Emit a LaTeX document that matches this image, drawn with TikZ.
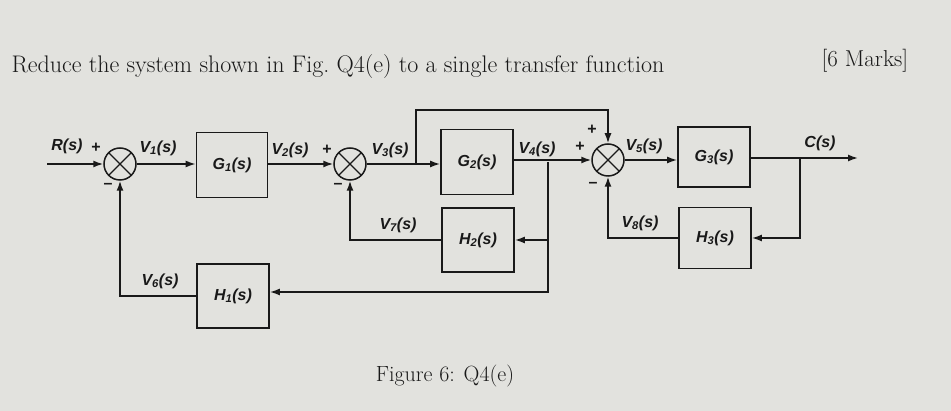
\documentclass[tikz,border=0pt]{standalone}
\usepackage{fontspec}
\newfontfamily\lbl{Liberation Sans}
\usetikzlibrary{arrows.meta}
\definecolor{bg}{RGB}{226,226,222}
\definecolor{ink}{RGB}{25,25,25}
\newcommand\sv[2]{#1\textsubscript{#2}(s)}
\begin{document}
\begin{tikzpicture}[x=1pt,y=-1pt,
  blk/.style={draw=ink,line width=1.8pt,minimum width=72pt,minimum height=64pt,inner sep=0pt,text=ink,font=\lbl\bfseries\itshape\fontsize{16}{18}\selectfont},
  sumj/.style={draw=ink,line width=1.5pt,circle,minimum size=32pt,inner sep=0pt,path picture={\draw[ink,line width=1.3pt] (path picture bounding box.north west)--(path picture bounding box.south east) (path picture bounding box.south west)--(path picture bounding box.north east);}},
  sig/.style={draw=ink,line width=1.5pt},
  arr/.style={sig,-{Latex[length=10pt,width=7pt]}},
  lab/.style={font=\lbl\bfseries\itshape\fontsize{16}{18}\selectfont,text=ink,inner sep=1pt},
  sgn/.style={font=\lbl\bfseries\fontsize{16}{18}\selectfont,text=ink,inner sep=0pt}]
\fill[bg] (0,0) rectangle (951,411);
\useasboundingbox (0,0) rectangle (951,411);
\node[anchor=base west,font=\fontsize{24}{26}\selectfont,text=ink] (title) at (8,73) {Reduce the system shown in Fig.\ Q4(e) to a single transfer function};
\node[anchor=base west,font=\fontsize{23}{26}\selectfont,text=ink] (marks) at (818,67) {[6 Marks]};
\node[font=\fontsize{22}{26}\selectfont,text=ink] (fig) at (445,376) {Figure 6: Q4(e)};
% blocks
\node[sumj] (s1) at (120,164) {};
\node[sumj] (s2) at (350,164) {};
\node[sumj] (s3) at (608,160) {};
\node[blk,minimum width=71pt,minimum height=65pt] (G1) at (232,165) {\sv{G}{1}};
\node[blk,minimum height=65pt] (G2) at (477,162) {\sv{G}{2}};
\node[blk,minimum height=60pt] (G3) at (714,157) {\sv{G}{3}};
\node[blk] (H1) at (233,296) {\sv{H}{1}};
\node[blk] (H2) at (478,240) {\sv{H}{2}};
\node[blk,minimum height=61pt] (H3) at (715,238) {\sv{H}{3}};
\coordinate (rin) at (47,164);
\coordinate (cout) at (858,158);
\coordinate (ff) at (416,164);
\coordinate (pk) at (548,162);
\coordinate (pc) at (800,158);
% forward path
\draw[arr] (rin) -- (s1.west);
\draw[arr] (s1.east) -- (G1.west |- s1.east);
\draw[arr] (G1.east |- s2.west) -- (s2.west);
\draw[arr] (s2.east) -- (G2.west |- s2.east);
\draw[arr] (G2.east |- s3.west) -- (s3.west);
\draw[arr] (s3.east) -- (G3.west |- s3.east);
\draw[arr] (G3.east |- cout) -- (cout);
% feedforward
\draw[arr] (ff) -- (ff |- 0,110) -- (s3.north |- 0,110) -- (s3.north);
% feedbacks
\draw[arr] (pc) -- (pc |- H3.east) -- (H3.east);
\draw[arr] (H3.west) -- (s3.south |- H3.west) -- (s3.south);
\draw[arr] (pk) -- (pk |- 0,292) -- (H1.east |- 0,292);
\draw[arr] (pk |- H2.east) -- (H2.east);
\draw[arr] (H2.west) -- (s2.south |- H2.west) -- (s2.south);
\draw[arr] (H1.west) -- (s1.south |- H1.west) -- (s1.south);
% labels
\node[lab] (lR) at (67,146) {R(s)};
\node[sgn] (p1) at (96,148) {+};
\node[sgn] (m1) at (108,186) {–};
\node[lab] (lV1) at (158,148) {\sv{V}{1}};
\node[lab] (lV2) at (290,150) {\sv{V}{2}};
\node[sgn] (p2) at (327,150) {+};
\node[sgn] (m2) at (338,186) {–};
\node[lab] (lV3) at (390,150) {\sv{V}{3}};
\node[lab] (lV4) at (537,149) {\sv{V}{4}};
\node[sgn] (p3) at (580,147) {+};
\node[sgn] (p3b) at (592,130) {+};
\node[sgn] (m3) at (593,185) {–};
\node[lab] (lV5) at (644,146) {\sv{V}{5}};
\node[lab] (lC) at (820,143) {C(s)};
\node[lab] (lV7) at (398,225) {\sv{V}{7}};
\node[lab] (lV8) at (640,223) {\sv{V}{8}};
\node[lab] (lV6) at (160,281) {\sv{V}{6}};
\end{tikzpicture}
\end{document}
